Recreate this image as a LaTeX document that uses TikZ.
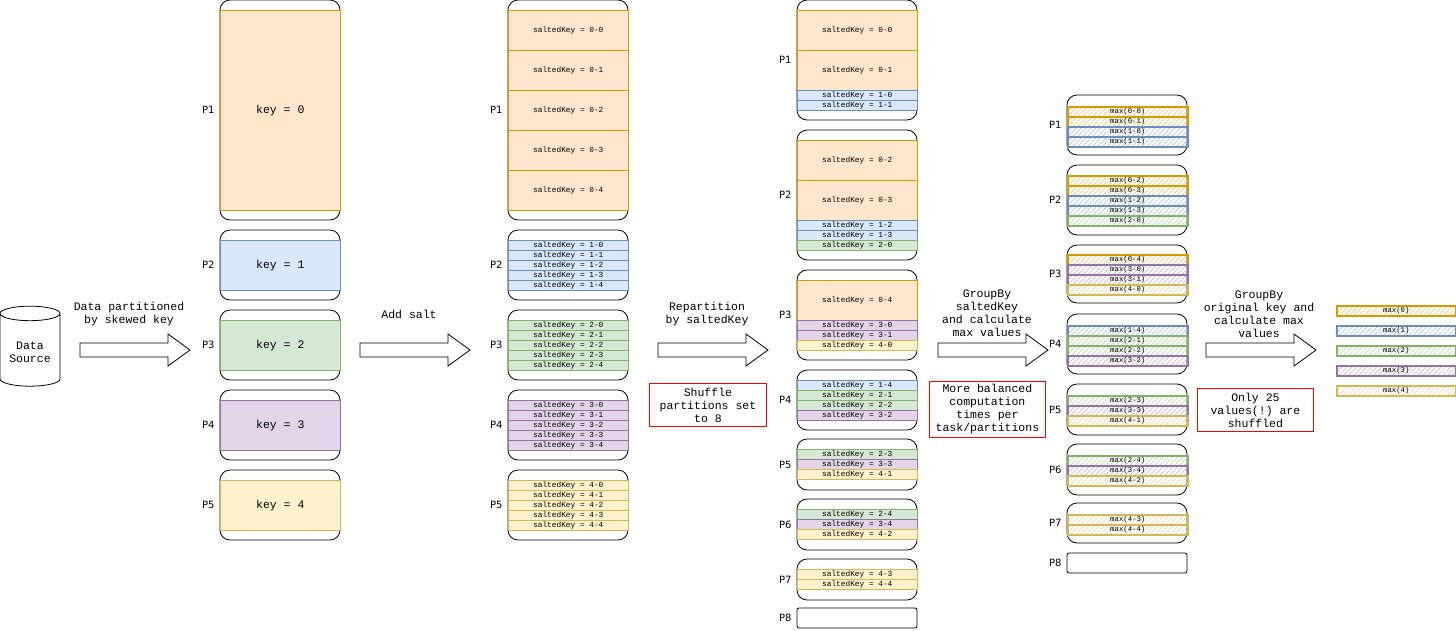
\documentclass[tikz,border=0pt]{standalone}
\usepackage{fontspec}
\setmainfont{DejaVu Sans}
\setmonofont{Liberation Mono}
\usetikzlibrary{shapes.geometric,patterns.meta}
\definecolor{ofill}{HTML}{FFE6CC}\definecolor{odraw}{HTML}{D79B00}
\definecolor{bfill}{HTML}{DAE8FC}\definecolor{bdraw}{HTML}{6C8EBF}
\definecolor{gfill}{HTML}{D5E8D4}\definecolor{gdraw}{HTML}{82B366}
\definecolor{pfill}{HTML}{E1D5E7}\definecolor{pdraw}{HTML}{9673A6}
\definecolor{yfill}{HTML}{FFF2CC}\definecolor{ydraw}{HTML}{D6B656}
\definecolor{sred}{HTML}{FF0000}
\tikzset{
 co/.style={fill=ofill,draw=odraw},cb/.style={fill=bfill,draw=bdraw},
 cg/.style={fill=gfill,draw=gdraw},cp/.style={fill=pfill,draw=pdraw},
 cy/.style={fill=yfill,draw=ydraw},
 hatch/.style={preaction={pattern={Lines[angle=45,distance=3.5pt,line width=0.7pt]},pattern color=#1!50},draw=#1,line width=1.5pt},
 ho/.style={hatch=odraw},hb/.style={hatch=bdraw},hg/.style={hatch=gdraw},hp/.style={hatch=pdraw},hy/.style={hatch=ydraw},
 box/.style={draw=black,rounded corners=10pt,line width=0.8pt,fill=white},
 row/.style={anchor=north west,minimum width=120pt,inner sep=0pt,font=\ttfamily\fontsize{7.8}{8}\selectfont,line width=0.6pt},
 mrow/.style={anchor=north west,minimum width=120pt,inner sep=0pt,minimum height=10pt,font=\ttfamily\fontsize{7.3}{8}\selectfont},
 plab/.style={anchor=east,font=\fontsize{10}{11}\selectfont},
 blk/.style={draw=black,fill=white,line width=0.8pt},
 lab/.style={font=\ttfamily\fontsize{11.5}{13}\selectfont,align=center},
 note/.style={draw=sred,line width=0.8pt,font=\ttfamily\fontsize{11.5}{13}\selectfont,align=center,inner sep=0pt,anchor=north west}
}
\newcommand\blockarrow[2]{\draw[blk] (#1,343) -- (#1+88,343) -- (#1+88,334) -- (#1+110,350) -- (#1+88,366) -- (#1+88,357) -- (#1,357) -- cycle;
  \coordinate (#2) at (#1,350);}
\begin{document}
\begin{tikzpicture}[x=1pt,y=-1pt]
\useasboundingbox (0,0) rectangle (1456,630);
% data source
\node[cylinder,shape border rotate=90,draw,line width=0.8pt,minimum width=60pt,minimum height=80pt,aspect=0.35,align=center,font=\ttfamily\fontsize{11.5}{13}\selectfont,inner sep=0pt] (ds) at (30,350) {\\Data\\Source};
% arrows
\blockarrow{80}{a1}\blockarrow{360}{a2}\blockarrow{658}{a3}\blockarrow{938}{a4}\blockarrow{1206}{a5}
\node[lab] (l1) at (129,314) {Data partitioned\\by skewed key};
\node[lab] (l2) at (409,314) {Add salt};
\node[lab] (l3) at (707,314) {Repartition\\by saltedKey};
\node[lab] (l4) at (987,313) {GroupBy\\saltedKey\\and calculate\\max values};
\node[lab] (l5) at (1259,314) {GroupBy\\original key and\\calculate max\\values};
\node[note,minimum width=117pt,minimum height=43pt] (n1) at (649,383) {Shuffle\\partitions set\\to 8};
\node[note,minimum width=116pt,minimum height=56pt] (n2) at (929,381) {More balanced\\computation\\times per\\task/partitions};
\node[note,minimum width=116pt,minimum height=43pt] (n3) at (1197,388) {Only 25\\values(!) are\\shuffled};
% column 1
\foreach \i/\t/\h/\c/\k in {1/0/220/co/0,2/230/70/cb/1,3/310/70/cg/2,4/390/70/cp/3,5/470/70/cy/4}{
  \draw[box] (220,\t) rectangle (340,\t+\h);
  \node[row,\c,minimum height={\h-20},font=\ttfamily\fontsize{11.5}{13}\selectfont] (c1r\i) at (220,\t+10) {key = \k};
  \node[plab] (c1p\i) at (218,\t+\h/2) {P\i};
}
% column 2
\draw[box] (508,0) rectangle (628,220);
\foreach \j in {0,...,4}{\node[row,co,minimum height=40pt] (c2a\j) at (508,10+40*\j) {saltedKey = 0-\j};}
\node[plab] (c2p1) at (506,110) {P1};
\foreach \i/\t/\c/\k in {2/230/cb/1,3/310/cg/2,4/390/cp/3,5/470/cy/4}{
  \draw[box] (508,\t) rectangle (628,\t+70);
  \foreach \j in {0,...,4}{\node[row,\c,minimum height=10pt] (c2r\i\j) at (508,\t+10+10*\j) {saltedKey = \k-\j};}
  \node[plab] (c2p\i) at (506,\t+35) {P\i};
}
% column 3
\newcommand\cthree[4]{%
  \draw[box] (797,#2) rectangle (917,#3);
  \node[plab] (c3p#1) at (795,{(#2+#3)/2}) {P#1};
  \foreach \yy/\hh/\cc/\tt in {#4}{\node[row,\cc,minimum height=\hh] at (797,\yy) {saltedKey = \tt};}
}
\cthree{1}{0}{120}{10/40/co/0-0,50/40/co/0-1,90/10/cb/1-0,100/10/cb/1-1}
\cthree{2}{130}{260}{140/40/co/0-2,180/40/co/0-3,220/10/cb/1-2,230/10/cb/1-3,240/10/cg/2-0}
\cthree{3}{270}{360}{280/40/co/0-4,320/10/cp/3-0,330/10/cp/3-1,340/10/cy/4-0}
\cthree{4}{370}{430}{380/10/cb/1-4,390/10/cg/2-1,400/10/cg/2-2,410/10/cp/3-2}
\cthree{5}{439}{490}{449/10/cg/2-3,459/10/cp/3-3,469/10/cy/4-1}
\cthree{6}{499}{550}{509/10/cg/2-4,519/10/cp/3-4,529/10/cy/4-2}
\cthree{7}{559}{600}{569/10/cy/4-3,579/10/cy/4-4}
\draw[box,rounded corners=2pt] (797,608) rectangle (917,628);
\node[plab] (c3p8) at (795,618) {P8};
% column 4
\newcommand\cfour[4]{%
  \draw[box] (1067,#2) rectangle (1187,#3);
  \node[plab] (c4p#1) at (1065,{(#2+#3)/2}) {P#1};
  \foreach \yy/\cc/\tt in {#4}{\node[mrow,\cc] at (1067,\yy) {max(\tt)};}
}
\cfour{1}{95}{155}{106/ho/0-0,116/ho/0-1,126/hb/1-0,136/hb/1-1}
\cfour{2}{165}{235}{175/ho/0-2,185/ho/0-3,195/hb/1-2,205/hb/1-3,215/hg/2-0}
\cfour{3}{245}{303}{254/ho/0-4,264/hp/3-0,274/hp/3-1,284/hy/4-0}
\cfour{4}{314}{374}{325/hb/1-4,335/hg/2-1,345/hg/2-2,355/hp/3-2}
\cfour{5}{384}{435}{395/hg/2-3,405/hp/3-3,415/hy/4-1}
\cfour{6}{444}{495}{455/hg/2-4,465/hp/3-4,475/hy/4-2}
\cfour{7}{503}{543}{514/hy/4-3,524/hy/4-4}
\draw[box,rounded corners=2pt] (1067,553) rectangle (1187,573);
\node[plab] (c4p8) at (1065,563) {P8};
% column 5
\foreach \yy/\cc/\k in {305/ho/0,325/hb/1,345/hg/2,365/hp/3,385/hy/4}{
  \node[mrow,\cc,minimum width=119pt] (c5r\k) at (1336,\yy) {max(\k)};
}
\end{tikzpicture}
\end{document}
